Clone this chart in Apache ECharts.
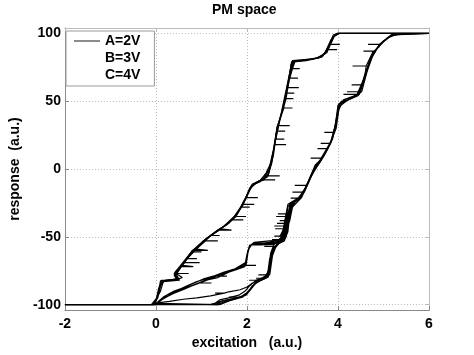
<!DOCTYPE html>
<html>
<head>
<meta charset="utf-8">
<script src="https://cdn.jsdelivr.net/npm/echarts@6/dist/echarts.min.js"></script>
<style>html,body{margin:0;padding:0;background:#fff}#c{width:474px;height:355px}</style>
</head>
<body>
<div id="c"></div>
<script>
var seriesNames = ['A=2V', 'B=3V', 'C=4V'];
var xTicks = [-2, 0, 2, 4, 6];
var yTicks = [-100, -50, 0, 50, 100];

var seriesA = [
[-2,-100],[-0.05,-100],[1.3,-100],[1.42,-97.5],[1.62,-96],[1.86,-94.5],[1.6,-94.5],[1.86,-94.5],[2.0,-92],[2.12,-86],[2.28,-82],[2.05,-82],[2.28,-82],[2.47,-79.5],[2.52,-66],[2.62,-57],[2.38,-57],[2.62,-57],[2.8,-52],[2.55,-52],[2.8,-52],[2.86,-40],[2.66,-40],[2.86,-40],[2.96,-27],[3.16,-21.5],[2.96,-21.5],[3.16,-21.5],[3.32,-12],[3.05,-12],[3.32,-12],[3.48,1],[3.62,6],[3.78,15],[3.55,15],[3.78,15],[3.92,27],[3.7,27],[3.92,27],[4.0,47],[4.08,50],[4.3,53],[4.47,55],[4.12,55],[4.47,55],[4.6,71],[4.62,76],[4.32,76],[4.62,76],[4.76,86],[4.9,90],[4.92,92],[4.66,92],[4.92,92],[5.06,96],[5.22,100],[6,100],
[4.02,100],[3.92,98],[3.78,88],[3.98,88],[3.78,88],[3.64,82.5],[3.45,81],[3.3,80],[3.02,79],[2.94,70],[2.93,67],[3.12,67],[2.93,67],[2.86,52],[3.02,52],[2.86,52],[2.74,38],[2.66,31],[2.65,28],[2.84,28],[2.65,28],[2.6,15],[2.55,5],[2.46,-5],[2.72,-5],[2.46,-5],[2.28,-9.5],[2.1,-12],[2.0,-19],[1.99,-21],[2.24,-21],[1.99,-21],[1.84,-30],[1.68,-37.5],[1.92,-37.5],[1.68,-37.5],[1.46,-43],[1.3,-47],[1.1,-51.5],[1.08,-53],[1.36,-53],[1.08,-53],[0.92,-57.5],[0.76,-62],[0.66,-67],[0.63,-69],[0.96,-69],[0.63,-69],[0.5,-74],[0.4,-77],[0.72,-77],[0.4,-77],[0.48,-80.5],[0.44,-82],[0.12,-82],[0.06,-92],[-0.04,-100],[-2,-100],
[1.35,-100],[1.48,-98],[1.7,-96],[1.9,-93.5],[2.05,-90],[2.18,-84],[2.35,-81],[2.5,-78],[2.25,-78],[2.5,-78],[2.56,-64],[2.66,-55],[2.84,-51],[2.86,-49.5],[2.6,-49.5],[2.86,-49.5],[2.9,-35],[2.64,-35],[2.9,-35],[3.0,-24],[3.2,-20],[3.36,-8],[3.5,3],[3.66,8],[3.4,8],[3.66,8],[3.82,18],[3.96,30],[4.02,44],[4.12,51],[4.36,54],[4.52,57],[4.2,57],[4.52,57],[4.64,72],[4.8,87],[4.56,87],[4.8,87],[4.98,94],[5.12,97],[5.3,99.5],[5.8,100],[6,100],
[3.98,100],[3.84,95],[3.72,86],[3.58,82],[3.36,80.5],[3.06,80],[3.0,74],[2.9,62],[2.9,60],[3.14,60],[2.9,60],[2.8,44],[2.7,34],[2.69,32],[2.94,32],[2.69,32],[2.62,20],[2.61,18],[2.86,18],[2.61,18],[2.52,4],[2.42,-3],[2.3,-8],[2.16,-11],[2.04,-16],[1.94,-24],[1.92,-26],[2.16,-26],[1.92,-26],[1.76,-34],[1.62,-39],[1.42,-44],[1.4,-45],[1.66,-45],[1.4,-45],[1.16,-50],[1.02,-54],[0.88,-59],[0.86,-60],[1.14,-60],[0.86,-60],[0.7,-65],[0.58,-71],[0.56,-72],[0.82,-72],[0.56,-72],[0.42,-79],[0.52,-82],[0.16,-83],[0.1,-90],[0.02,-95],[-0.1,-100],[-2,-100],
[1.25,-100],[1.45,-98.5],[1.75,-95.5],[1.95,-93],[2.08,-88],[2.22,-83],[2.42,-80.5],[2.2,-80.5],[2.42,-80.5],[2.5,-72],[2.58,-60],[2.72,-54],[2.45,-54],[2.72,-54],[2.82,-50],[2.88,-44],[2.92,-38],[2.72,-38],[2.92,-38],[2.98,-29],[3.1,-22],[3.26,-17],[3.0,-17],[3.26,-17],[3.4,-6],[3.54,2],[3.7,10],[3.84,19],[3.62,19],[3.84,19],[3.94,32],[4.0,45],[4.2,52],[4.4,54],[4.54,62],[4.3,62],[4.54,62],[4.68,78],[4.84,88],[5.0,94],[5.16,98],[5.4,100],[6,100],
[4.04,100],[3.94,99],[3.82,92],[4.04,92],[3.82,92],[3.7,85],[3.52,81.5],[3.2,80.5],[3.0,80],[2.96,74],[3.16,74],[2.96,74],[2.9,60],[2.82,48],[2.81,45],[3.0,45],[2.81,45],[2.72,36],[2.64,24],[2.63,22],[2.82,22],[2.63,22],[2.58,10],[2.5,0],[2.4,-5],[2.38,-8],[2.62,-8],[2.38,-8],[2.2,-10],[2.06,-15],[1.96,-22],[1.88,-28],[1.76,-35],[1.98,-35],[1.76,-35],[1.56,-41],[1.36,-45],[1.2,-49],[1.4,-49],[1.2,-49],[1.04,-53],[0.9,-58],[0.8,-60],[0.68,-66],[0.9,-66],[0.68,-66],[0.54,-72],[0.44,-77],[0.58,-80],[0.5,-81],[0.2,-82],[0.08,-86],[0.04,-94],[-0.06,-100],[-2,-100]
];

var seriesB = [
[-2,-100],[0,-100],[0.1,-97],[0.22,-94.5],[0.46,-90.5],[0.7,-87],[0.94,-84],[1.22,-84],[0.94,-84],[1.14,-81],[1.32,-79],[1.56,-79],[1.32,-79],[1.52,-76.5],[1.76,-74],[1.98,-71],[2.2,-71],[1.98,-71],[2.02,-62],[2.06,-57],[2.12,-55],[2.4,-54.5],[2.62,-54],[2.78,-53],[2.84,-45],[2.88,-38],[2.94,-30],[3.0,-24],[2.9,-26],[2.82,-40],[2.76,-52],[2.5,-54],[2.1,-55.5],[2.02,-60],[1.97,-69],[1.74,-73.5],[1.5,-76],[1.3,-78.5],[1.05,-81],[0.88,-83.5],[0.6,-87.5],[0.4,-90],[0.18,-94],[0.04,-98],[-0.04,-100],
[0.12,-96.5],[0.3,-93],[0.52,-89.5],[0.8,-86],[1.08,-82.5],[1.4,-78],[1.7,-75],[1.95,-72],[2.0,-65],[2.04,-58],[2.16,-54],[2.5,-53],[2.7,-52.5],[2.8,-50],[2.86,-42],[2.6,-42],[2.86,-42],[2.9,-34],[3.0,-25],[3.18,-21],[3.3,-13],[3.46,-1],[3.6,5],[3.74,13],[3.88,22],[3.98,40],[4.02,48],[4.3,52],[4.44,54],[4.58,66],[4.72,82],[4.9,91],[5.04,95],[5.18,99],[5.6,99.6],[6,100],
[4.0,100],[3.9,99],[3.8,91],[3.68,84],[3.5,81.5],[3.2,80],[2.98,79],[2.92,67],[2.84,55],[2.76,42],[2.66,30],[2.58,14],[2.5,2],[2.48,-3],[2.32,-8],[2.12,-11],[2.02,-18],[1.86,-28],[2.06,-28],[1.86,-28],[1.72,-35],[1.5,-42],[1.28,-47],[1.12,-51],[0.94,-56],[0.78,-61],[1.0,-61],[0.78,-61],[0.66,-66],[0.52,-72],[0.42,-76],[0.5,-81],[0.46,-82],[0.14,-82.5],[0.08,-88],[0.04,-95],[-0.06,-100],
[0,-100],[0.14,-96],[0.36,-92],[0.62,-88.5],[0.86,-85],[1.1,-82],[1.36,-80],[1.6,-76],[1.86,-73],[1.98,-68],[2.02,-60],[2.1,-56],[2.36,-55],[2.6,-55],[2.74,-53.5],[2.8,-48],[2.86,-40],[2.92,-32],[2.84,-38],[2.78,-50],[2.6,-55.5],[2.3,-56],[2.06,-56],[2.0,-63],[1.96,-70],[1.8,-73],[1.56,-75.5],[1.36,-78],[1.12,-80.5],[0.9,-83],[0.66,-86.5],[0.44,-90],[0.24,-93],[0.08,-97],[0,-100],[-2,-100]
];

var seriesC = [
[-2,-100],[-0.05,-100],[0.08,-98.5],[0.3,-97.5],[0.6,-96],[0.9,-95],[1.2,-93.5],[1.5,-91.5],[1.3,-91.5],[1.5,-91.5],[1.6,-90.5],[1.85,-89],[2.0,-87],[2.1,-84.5],[2.3,-81],[2.44,-78],[2.5,-70],[2.58,-60],[2.66,-55],[2.82,-52],[2.84,-44],[2.62,-44],[2.84,-44],[2.9,-33],[2.68,-33],[2.9,-33],[2.96,-25],[2.9,-28],[2.84,-40],[2.8,-49],[2.6,-55],[2.52,-62],[2.48,-75],[2.4,-79.5],[2.2,-82],[2.06,-86],[1.96,-90],[1.82,-93],[1.6,-95],[1.4,-96.5],[1.3,-99],[1.2,-100],
[1.38,-98],[1.58,-96.5],[1.8,-95],[1.98,-93],[2.1,-88],[2.2,-84],[2.44,-80],[2.48,-72],[2.54,-62],[2.64,-56],[2.82,-53],[2.9,-46],[2.92,-40],[2.78,-52],[2.86,-48],[2.94,-36],[2.84,-46],[2.96,-32],[3.02,-25],[2.92,-30],[2.88,-44],[2.94,-38],[3.0,-28],[3.2,-21],[3.34,-11],[3.46,-2],[3.62,6],[3.76,15],[3.88,23],[3.98,38],[4.04,48],[4.34,53],[4.48,56],[4.6,70],[4.76,84],[4.92,92],[5.1,97],[5.25,100],[6,100],
[4.0,100],[3.88,97],[3.76,86],[3.58,82],[3.3,80.5],[3.0,79.5],[2.92,68],[2.84,53],[2.72,36],[2.64,26],[2.58,12],[2.52,3],[2.46,-5],[2.22,-10],[2.06,-14],[1.98,-21],[1.84,-30],[1.68,-37],[1.46,-43],[1.24,-48],[1.08,-52],[0.9,-58],[0.74,-63],[0.64,-68],[0.5,-74],[0.4,-78],[0.46,-81.5],[0.1,-82.5],[0.06,-90],[-0.02,-99],[-0.04,-100],
[1.4,-100],[1.62,-97],[1.9,-94.5],[2.02,-91],[2.16,-85],[2.36,-81],[2.46,-76],[2.5,-66],[2.58,-58],[2.7,-55],[2.76,-53],[2.8,-47],[2.72,-50],[2.84,-42],[2.78,-48],[2.9,-36],[2.82,-44],[2.94,-30],[2.86,-40],[2.98,-26],[3.06,-23],[2.92,-32],[2.8,-45],[2.88,-40],[2.96,-30],[3.04,-24],[3.14,-21],[3.28,-14],[3.42,-4],[3.56,4],[3.7,12],[3.84,20],[3.96,34],[4.02,46],[4.26,52],[4.42,55],[4.56,66],[4.7,80],[4.88,90],[5.02,95],[5.2,99],[6,100],
[4.02,100],[3.9,97.5],[3.8,90],[3.66,83],[3.4,81],[3.1,80],[2.97,77],[2.92,64],[2.86,56],[3.04,56],[2.86,56],[2.78,44],[2.7,33],[2.62,20],[2.56,8],[2.5,0],[2.44,-6],[2.26,-9],[2.1,-13],[2.0,-20],[1.9,-27],[1.78,-33],[1.6,-40],[1.38,-45],[1.18,-50],[1.02,-55],[0.86,-60],[0.72,-65],[0.6,-70],[0.48,-75],[0.42,-78],[0.48,-81],[0.18,-82.5],[0.06,-88],[0,-97],[-0.08,-100],[-2,-100]
];

var FONT = 'Liberation Sans, Arial, sans-serif';
var chart = echarts.init(document.getElementById('c'), null, {renderer: 'canvas'});

function lineSeries(name, data, color) {
  return {
    name: name, type: 'line', data: data, symbol: 'none', showSymbol: false,
    xAxisIndex: 0, yAxisIndex: 0, silent: true, animation: false, smooth: false,
    lineStyle: {color: color, width: 1.2}, itemStyle: {color: color}
  };
}

var LINE_ICON = 'path://M0,0L26,0L26,1.5L0,1.5Z';

var option = {
  animation: false,
  backgroundColor: '#fff',
  title: {
    text: 'PM space', left: 207, top: -2,
    textStyle: {fontFamily: FONT, fontSize: 14, fontWeight: 'bold', color: '#000'}
  },
  legend: {
    left: 66, top: 31, orient: 'vertical',
    selectedMode: false,
    backgroundColor: '#fff', borderColor: '#999', borderWidth: 1,
    padding: [3, 14, 4, 8], itemGap: 3, itemWidth: 26, itemHeight: 14,
    textStyle: {fontFamily: FONT, fontSize: 14, fontWeight: 'bold', color: '#000'},
    data: [
      {name: seriesNames[0], icon: LINE_ICON, itemStyle: {color: '#666'}},
      {name: seriesNames[1], icon: LINE_ICON, itemStyle: {opacity: 0}},
      {name: seriesNames[2], icon: LINE_ICON, itemStyle: {opacity: 0}}
    ]
  },
  grid: {left: 61, right: 45, top: 28, bottom: 40, containLabel: false},
  xAxis: [{
    type: 'value', min: -2, max: 6, interval: 2, position: 'bottom',
    name: 'excitation   (a.u.)', nameLocation: 'middle', nameGap: 20,
    nameTextStyle: {fontFamily: FONT, fontSize: 14, fontWeight: 'bold', color: '#000'},
    axisLine: {show: true, onZero: false, lineStyle: {color: '#888'}},
    axisTick: {show: true, inside: true, length: 4, lineStyle: {color: '#888'}},
    axisLabel: {margin: 7, fontFamily: FONT, fontSize: 14, fontWeight: 'bold', color: '#000'},
    splitLine: {show: true, lineStyle: {type: [1, 2], color: '#bbb'}}
  }, {
    type: 'value', min: -2, max: 6, interval: 2, position: 'top',
    axisLine: {show: true, onZero: false, lineStyle: {color: '#bbb'}},
    axisTick: {show: true, inside: true, length: 4, lineStyle: {color: '#bbb'}},
    axisLabel: {show: false}, splitLine: {show: false}
  }],
  yAxis: [{
    type: 'value', min: -104, max: 104, position: 'left',
    name: 'response  (a.u.)', nameLocation: 'middle', nameGap: 34,
    nameTextStyle: {fontFamily: FONT, fontSize: 14, fontWeight: 'bold', color: '#000'},
    axisLine: {show: true, onZero: false, lineStyle: {color: '#888'}},
    axisTick: {show: true, inside: true, length: 4, customValues: yTicks, lineStyle: {color: '#888'}},
    axisLabel: {margin: 4, customValues: yTicks, fontFamily: FONT, fontSize: 14, fontWeight: 'bold', color: '#000'},
    splitLine: {show: true, lineStyle: {type: [1, 2], color: '#bbb'}}
  }, {
    type: 'value', min: -104, max: 104, position: 'right',
    axisLine: {show: true, onZero: false, lineStyle: {color: '#bbb'}},
    axisTick: {show: true, inside: true, length: 4, customValues: yTicks, lineStyle: {color: '#bbb'}},
    axisLabel: {show: false}, splitLine: {show: false}
  }],
  series: [
    lineSeries(seriesNames[0], seriesA, '#000'),
    lineSeries(seriesNames[1], seriesB, '#000'),
    lineSeries(seriesNames[2], seriesC, '#000')
  ]
};
chart.setOption(option);
</script>
</body>
</html>
